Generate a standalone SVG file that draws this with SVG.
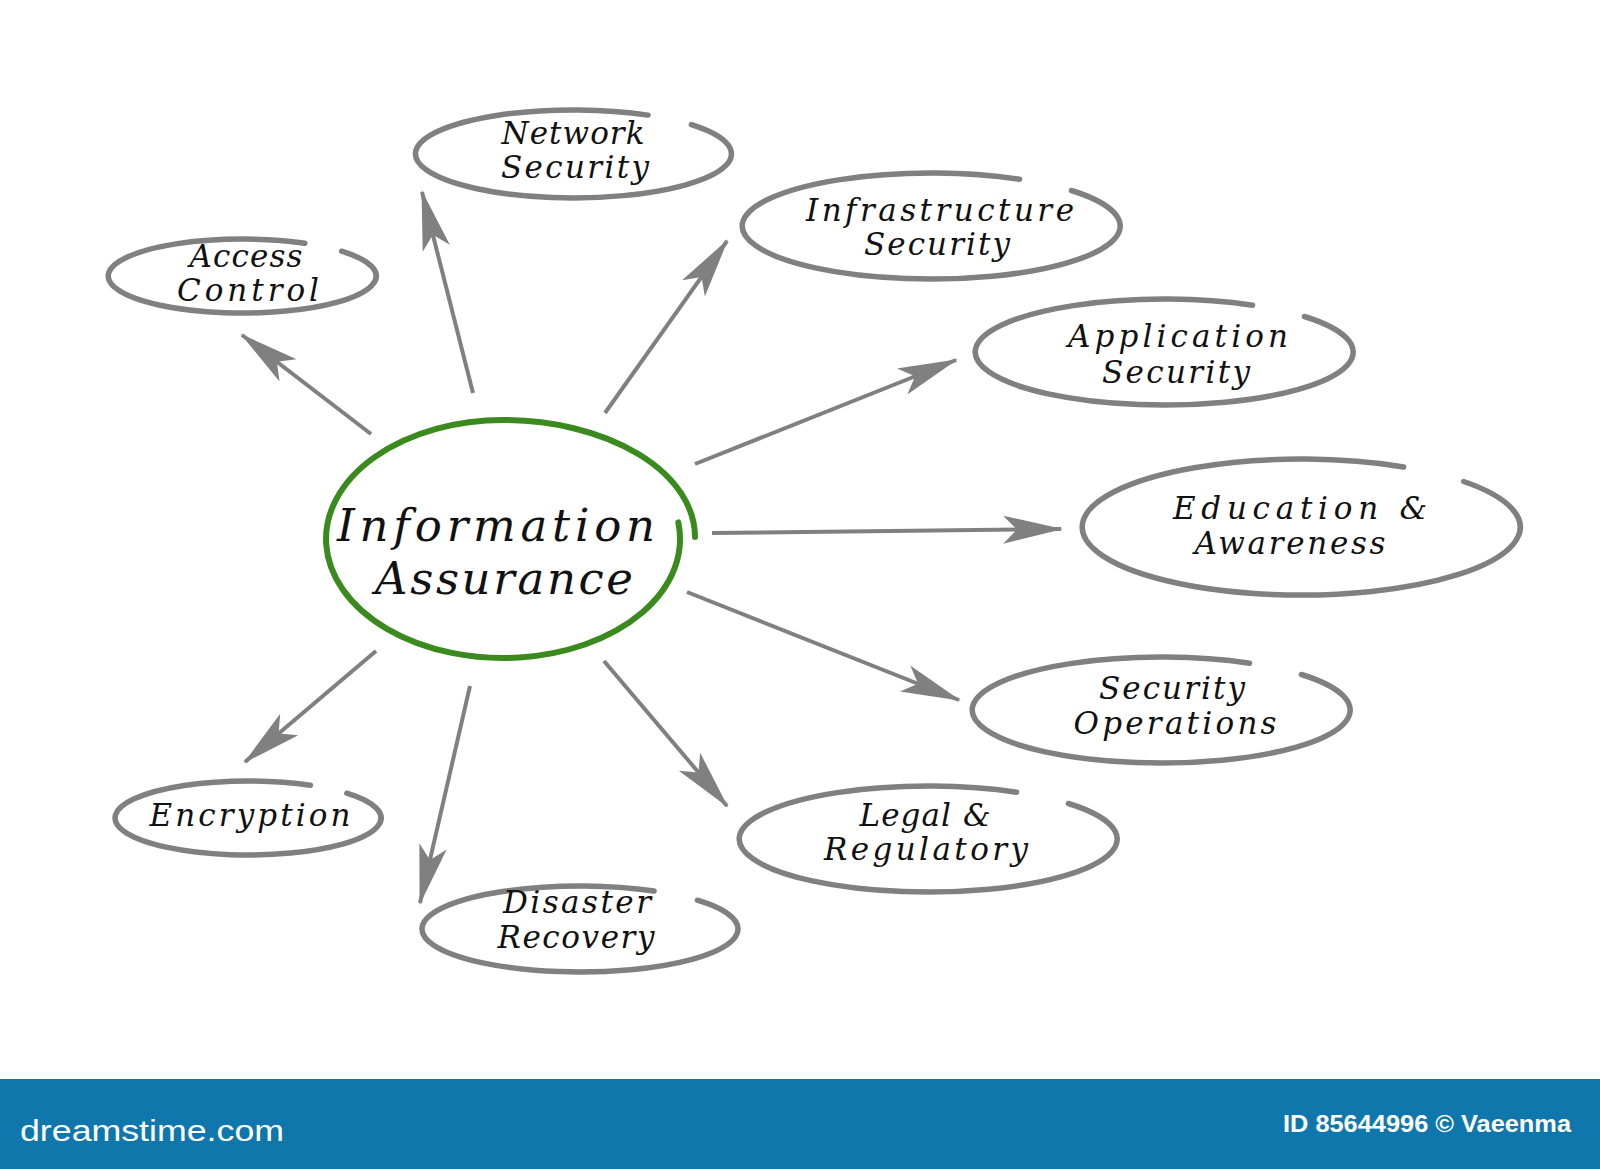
<svg xmlns="http://www.w3.org/2000/svg" width="1600" height="1169" viewBox="0 0 1600 1169">
<style>
.ring{fill:none;stroke:#808080;stroke-width:5.5;stroke-linecap:round}
.lbl{font-family:"DejaVu Serif","Liberation Serif",serif;font-style:italic;font-size:31px;fill:#111;text-anchor:middle}
.big{font-family:"DejaVu Serif","Liberation Serif",serif;font-style:italic;font-size:45px;fill:#111;text-anchor:middle}
.arr{stroke:#808080;stroke-width:4;fill:none;marker-end:url(#ah)}
</style>
<defs>
<marker id="ah" markerUnits="userSpaceOnUse" markerWidth="60" markerHeight="32" refX="58" refY="16" orient="auto" viewBox="0 0 60 32">
<path d="M0,2 L60,16 L0,30 L14,16 Z" fill="#808080"/>
</marker>
</defs>
<rect width="1600" height="1169" fill="#ffffff"/>
<g id="connectors">
<line class="arr" x1="371" y1="434" x2="242" y2="335"/>
<line class="arr" x1="473" y1="393" x2="422" y2="192"/>
<line class="arr" x1="605" y1="413" x2="727" y2="241"/>
<line class="arr" x1="695" y1="464" x2="956" y2="360"/>
<line class="arr" x1="712" y1="533" x2="1061" y2="529"/>
<line class="arr" x1="687" y1="592" x2="959" y2="700"/>
<line class="arr" x1="604" y1="661" x2="727" y2="806"/>
<line class="arr" x1="470" y1="686" x2="420" y2="903"/>
<line class="arr" x1="376" y1="651" x2="245" y2="762"/>
</g>
<g id="center">
<path d="M678.3,522.4 A177,119 0 1 1 503,420 A192,117 0 0 1 695,537" fill="none" stroke="#3a8a1e" stroke-width="6" stroke-linecap="round"/>
<text class="big" x="496" y="541" textLength="318">Information</text>
<text class="big" x="504" y="594" textLength="258">Assurance</text>
</g>
<g id="network">
<path class="ring" d="M648.1,115.1 A158,44 0 1 0 691.4,124.6"/>
<text class="lbl" x="573" y="144" textLength="143">Network</text>
<text class="lbl" x="575" y="178" textLength="148">Security</text>
</g>
<g id="access">
<path class="ring" d="M304.8,243.3 A134,37 0 1 0 341.6,251.2"/>
<text class="lbl" x="246" y="267" textLength="113">Access</text>
<text class="lbl" x="248" y="301" textLength="142">Control</text>
</g>
<g id="infrastructure">
<path class="ring" d="M1019.6,179.2 A189,53 0 1 0 1071.4,190.5"/>
<text class="lbl" x="940" y="221" textLength="268">Infrastructure</text>
<text class="lbl" x="937" y="255" textLength="146">Security</text>
</g>
<g id="application">
<path class="ring" d="M1252.6,305.2 A189,53 0 1 0 1304.4,316.5"/>
<text class="lbl" x="1178" y="347" textLength="220">Application</text>
<text class="lbl" x="1176" y="383" textLength="148">Security</text>
</g>
<g id="education">
<path class="ring" d="M1403.7,467 A219,68 0 1 0 1463.7,481.5"/>
<text class="lbl" x="1300" y="519" textLength="254">Education &amp;</text>
<text class="lbl" x="1290" y="554" textLength="191">Awareness</text>
</g>
<g id="secops">
<path class="ring" d="M1249.6,663.2 A189,53 0 1 0 1301.4,674.5"/>
<text class="lbl" x="1172" y="699" textLength="146">Security</text>
<text class="lbl" x="1175" y="734" textLength="203">Operations</text>
</g>
<g id="legal">
<path class="ring" d="M1016.6,792.2 A189,53 0 1 0 1068.4,803.5"/>
<text class="lbl" x="925" y="826" textLength="131">Legal &amp;</text>
<text class="lbl" x="926" y="860" textLength="204">Regulatory</text>
</g>
<g id="disaster">
<path class="ring" d="M654.1,891 A158,43 0 1 0 697.4,900.2"/>
<text class="lbl" x="577" y="913" textLength="148">Disaster</text>
<text class="lbl" x="576" y="948" textLength="157">Recovery</text>
</g>
<g id="encryption">
<path class="ring" d="M310.4,785.3 A133,37 0 1 0 346.8,793.2"/>
<text class="lbl" x="250" y="826" textLength="201">Encryption</text>
</g>
<g id="footer">
<rect x="0" y="1079" width="1600" height="90" fill="#1077ad"/>
<text x="20" y="1141" font-family="Liberation Sans, Arial, sans-serif" font-size="30" fill="#ffffff" textLength="264" lengthAdjust="spacingAndGlyphs">dreamstime.com</text>
<text x="1571" y="1132" font-family="Liberation Sans, Arial, sans-serif" font-size="23" font-weight="bold" fill="#ffffff" text-anchor="end" textLength="288" lengthAdjust="spacingAndGlyphs">ID 85644996 © Vaeenma</text>
</g>
</svg>
